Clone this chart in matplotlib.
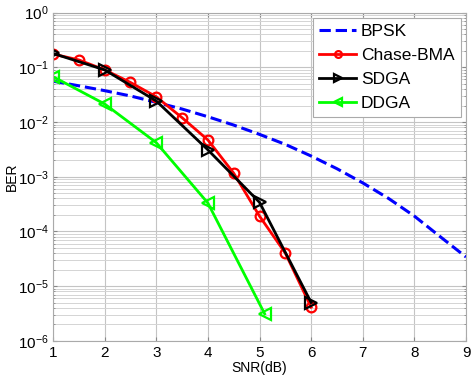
import numpy as np
import matplotlib
matplotlib.use("Agg")
import matplotlib.pyplot as plt
from matplotlib.ticker import FixedLocator, LogLocator, NullFormatter

plt.rcParams['font.family'] = ['Liberation Sans', 'DejaVu Sans']

# values
bpsk_snr = [1, 1.5, 2, 2.5, 3, 3.5, 4, 4.5, 5, 5.5, 6, 6.5, 7, 7.5, 8, 8.5, 9]
bpsk_ber = [5.6e-2, 4.6e-2, 3.75e-2, 3.0e-2, 2.29e-2, 1.73e-2, 1.25e-2, 8.8e-3,
            5.95e-3, 3.9e-3, 2.39e-3, 1.4e-3, 7.7e-4, 4.0e-4, 1.9e-4, 8.0e-5, 3.4e-5]

chase_snr = [1, 1.5, 2, 2.5, 3, 3.5, 4, 4.5, 5, 5.5, 6]
chase_ber = [0.175, 0.137, 0.09, 0.053, 0.029, 0.012, 4.7e-3, 1.16e-3, 1.9e-4, 4.0e-5, 4.1e-6]

sdga_snr = [1, 2, 3, 4, 5, 6]
sdga_ber = [0.18, 0.09, 0.0243, 3.1e-3, 3.4e-4, 5.0e-6]

ddga_snr = [1, 2, 3, 4, 5.1]
ddga_ber = [0.0676, 0.0214, 0.0042, 3.3e-4, 3.1e-6]

ber_ticks = [1e-6, 1e-5, 1e-4, 1e-3, 1e-2, 1e-1, 1]

fig = plt.figure(figsize=(4.75, 3.79), dpi=100)
ax = fig.add_axes([0.1116, 0.101, 0.8695, 0.8655])

ax.semilogy(bpsk_snr, bpsk_ber, '--', color='#0000ff', lw=2.2, label='BPSK')
ax.semilogy(chase_snr, chase_ber, '-o', color='#ff0000', lw=2, ms=7,
            mfc='none', mew=1.6, label='Chase-BMA')
ax.semilogy(sdga_snr, sdga_ber, '->', color='black', lw=2, ms=9,
            mfc='none', mew=1.6, label='SDGA')
ax.semilogy(ddga_snr, ddga_ber, '-<', color='#00ff00', lw=2, ms=9,
            mfc='none', mew=1.6, label='DDGA')

ax.set_xlim(1, 9)
ax.set_ylim(1e-6, 1)
ax.set_xticks(range(1, 10))
ax.yaxis.set_major_locator(FixedLocator(ber_ticks))
ax.yaxis.set_minor_locator(LogLocator(base=10, subs=np.arange(2, 10), numticks=20))
ax.yaxis.set_minor_formatter(NullFormatter())

ax.grid(True, which='major', color='#c4c4c4', lw=0.8)
ax.grid(True, which='minor', axis='y', color='#d4d4d4', lw=0.7)
ax.set_axisbelow(True)

ax.tick_params(axis='both', which='both', direction='in', labelsize=11,
               top=True, right=True, length=3, color='#888888')
ax.tick_params(axis='y', which='minor', length=1.5)
ax.tick_params(axis='y', which='major', pad=3)
for s in ax.spines.values():
    s.set_color('#aaaaaa')
    s.set_linewidth(0.8)

ax.set_xlabel('SNR(dB)', fontsize=10, labelpad=1)
ax.set_ylabel('BER', fontsize=10, labelpad=-1)

leg = ax.legend(loc='upper right', fontsize=12.5, handlelength=2.1, handletextpad=0.3,
                borderaxespad=0.3, borderpad=0.35, labelspacing=0.5,
                fancybox=False, framealpha=1, markerscale=0.7)
leg.get_frame().set_edgecolor('#aaaaaa')
leg.get_frame().set_linewidth(0.8)

fig.savefig('out.png', dpi=100)
